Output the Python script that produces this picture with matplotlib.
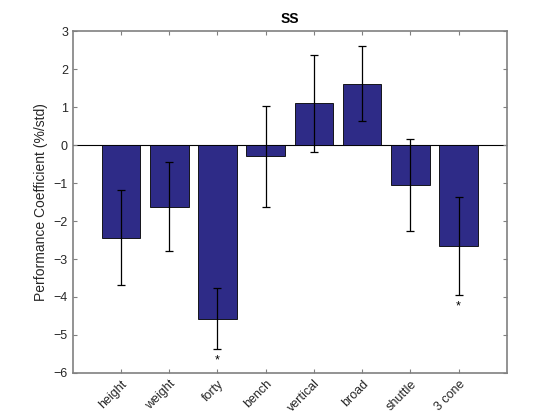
import numpy as np
import matplotlib
matplotlib.use('Agg')
import matplotlib.pyplot as plt

plt.rcParams['font.family'] = ['Liberation Sans', 'DejaVu Sans']

# performance coefficients per combine drill
labels = ['height', 'weight', 'forty', 'bench', 'vertical', 'broad', 'shuttle', '3 cone']
coef = [-2.44, -1.62, -4.57, -0.30, 1.10, 1.62, -1.06, -2.67]
err = [1.25, 1.17, 0.81, 1.34, 1.28, 1.00, 1.21, 1.29]
signif = [False, False, True, False, False, False, False, True]

bar_col = '#2e2b87'
spine_col = '#808080'
txt_col = '#262626'

fig = plt.figure(figsize=(5.6, 4.2), dpi=100)
ax = fig.add_axes([0.13, 0.112, 0.775, 0.814])

x = np.arange(1, len(labels) + 1)
ax.bar(x, coef, width=0.8, color=bar_col, edgecolor='black', linewidth=0.6, zorder=2)
ax.errorbar(x, coef, yerr=err, fmt='none', ecolor='black', elinewidth=0.9,
            capsize=3, capthick=0.9, zorder=3)
ax.axhline(0, color='black', linewidth=0.8, zorder=1)

for xi, c, e, s in zip(x, coef, err, signif):
    if s:
        ax.text(xi, c - e - 0.12, '*', ha='center', va='top', fontsize=9, color='black')

ax.set_xlim(0, 9)
ax.set_ylim(-6, 3)
ax.set_xticks(x)
ax.set_xticklabels(labels, rotation=45, ha='right', rotation_mode='anchor')
ax.set_yticks(np.arange(-6, 4, 1))

ax.tick_params(direction='in', length=3, width=0.8, color=spine_col,
               labelcolor=txt_col, labelsize=9, top=True, right=True)
for sp in ax.spines.values():
    sp.set_color(spine_col)
    sp.set_linewidth(1.2)

ax.set_ylabel('Performance Coefficient (%/std)', fontsize=10, color=txt_col)
ax.set_title('SS', fontsize=10, fontweight='bold', color='black', pad=6)

fig.savefig('out.png', dpi=100)
